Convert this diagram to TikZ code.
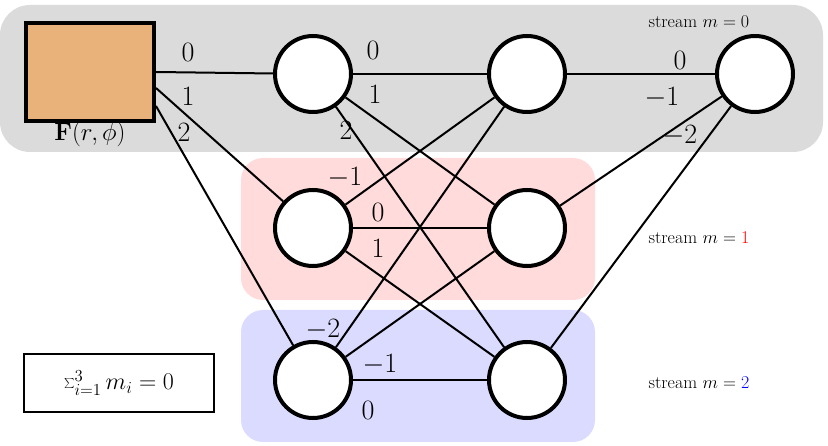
\RequirePackage{fix-cm}
\documentclass[tikz,border=0pt]{standalone}
\usepackage{xcolor}
\begin{document}
\begin{tikzpicture}[x=1pt,y=-1pt,
  neu/.style={circle,draw,line width=4pt,fill=white,minimum size=76pt,inner sep=0},
  con/.style={line width=2pt},
  lab/.style={font=\fontsize{28}{30}\selectfont,inner sep=1pt},
  st/.style={font=\fontsize{18}{20}\selectfont,anchor=west}]
\useasboundingbox (0,0) rectangle (828,446);
\fill[black!14,rounded corners=30pt] (0,5) rectangle (823,152);
\fill[red!14,rounded corners=22pt] (241,158) rectangle (595,300);
\fill[blue!14,rounded corners=22pt] (241,310) rectangle (595,442);
\node[draw,line width=4pt,fill=brown!55!orange!60,minimum width=128pt,minimum height=98pt,inner sep=0] (img) at (90,72) {};
\node[font=\fontsize{25}{27}\selectfont] (F) at (90,134) {$\mathbf{F}(r,\phi)$};
\node[neu] (a1) at (313,74) {};
\node[neu] (b1) at (527,74) {};
\node[neu] (c1) at (755,74) {};
\node[neu] (a2) at (313,228) {};
\node[neu] (b2) at (527,228) {};
\node[neu] (a3) at (313,380) {};
\node[neu] (b3) at (527,380) {};
\coordinate (o0) at (156,72);
\coordinate (o1) at (156,88);
\coordinate (o2) at (156,106);
\draw[con] (o0) -- (a1);
\draw[con] (o1) -- (a2);
\draw[con] (o2) -- (a3);
\foreach \s in {a1,a2,a3}{\foreach \t in {b1,b2,b3}{\draw[con] (\s) -- (\t);}}
\foreach \s in {b1,b2,b3}{\draw[con] (\s) -- (c1);}
\node[lab] at (188,52) {$0$};
\node[lab] at (188,96) {$1$};
\node[lab] at (184,132) {$2$};
\node[lab] at (373,50) {$0$};
\node[lab] at (375,94) {$1$};
\node[lab] at (346,130) {$2$};
\node[lab] at (345,178) {$-1$};
\node[lab] at (378,212) {$0$};
\node[lab] at (378,248) {$1$};
\node[lab] at (323,330) {$-2$};
\node[lab] at (380,365) {$-1$};
\node[lab] at (368,410) {$0$};
\node[lab] at (680,60) {$0$};
\node[lab] at (662,98) {$-1$};
\node[lab] at (680,136) {$-2$};
\node[st] at (645,22) {stream $m=0$};
\node[st] at (645,238) {stream $m=\textcolor{red}{1}$};
\node[st] at (645,383) {stream $m=\textcolor{blue}{2}$};
\node[draw,line width=1.8pt,font=\fontsize{24}{26}\selectfont,minimum width=190pt,minimum height=58pt] (sum) at (119,383) {$\sum_{i=1}^{3} m_i = 0$};
\end{tikzpicture}
\end{document}
